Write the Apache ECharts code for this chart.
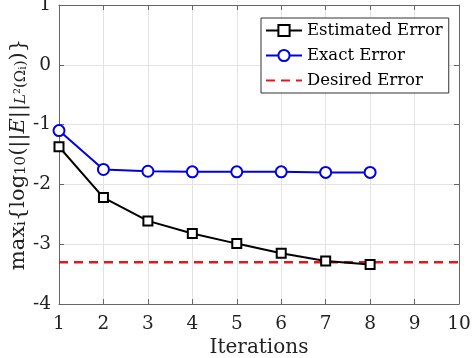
<!DOCTYPE html>
<html><head><meta charset="utf-8">
<script src="https://cdn.jsdelivr.net/npm/echarts@6/dist/echarts.min.js"></script>
<style>html,body{margin:0;padding:0;background:#fff}#c{width:474px;height:358px}</style>
</head><body><div id="c"></div>
<script>
const iterations = [1, 2, 3, 4, 5, 6, 7, 8];
const estimatedError = [-1.37, -2.22, -2.61, -2.82, -2.99, -3.15, -3.28, -3.34];
const exactError = [-1.10, -1.75, -1.78, -1.79, -1.79, -1.79, -1.80, -1.80];
const desiredX = [1, 10];
const desiredLevel = -3.30;
const xTicks = [1, 2, 3, 4, 5, 6, 7, 8, 9, 10];
const yTicks = [-4, -3, -2, -1, 0, 1];

const FONT = 'DejaVu Serif';
const chart = echarts.init(document.getElementById('c'), null, {renderer: 'canvas'});
const axisCol = '#666';
const gridCol = '#e3e3e3';
chart.setOption({
  animation: false,
  backgroundColor: '#fff',
  grid: {left: 59, right: 15, top: 5, bottom: 54, containLabel: false, outerBoundsMode: 'none'},
  legend: {
    orient: 'vertical', left: 261, top: 18,
    padding: [4, 6, 4, 4], itemGap: 8, itemWidth: 36, itemHeight: 14,
    backgroundColor: '#fff', borderColor: '#333', borderWidth: 1, borderRadius: 0,
    textStyle: {fontFamily: FONT, fontSize: 16.5, color: '#000', lineHeight: 17, padding: [0,0,0,0]},
    data: ['Estimated Error', 'Exact Error', {name: 'Desired Error', itemStyle: {opacity: 0}}]
  },
  xAxis: [{
    type: 'value', min: xTicks[0], max: xTicks[xTicks.length - 1], interval: 1,
    name: 'Iterations', nameLocation: 'middle', nameGap: 34, nameMoveOverlap: false,
    nameTextStyle: {fontFamily: FONT, fontSize: 20, color: '#222'},
    axisLine: {show: true, onZero: false, lineStyle: {color: axisCol, width: 1}},
    axisTick: {show: true, inside: true, length: 5, lineStyle: {color: axisCol}},
    axisLabel: {fontFamily: FONT, fontSize: 18.5, color: '#222', margin: 11},
    splitLine: {show: true, lineStyle: {color: gridCol, width: 1}}
  }, {
    type: 'value', position: 'top', min: xTicks[0], max: xTicks[xTicks.length - 1], interval: 1,
    axisLine: {show: true, onZero: false, lineStyle: {color: axisCol, width: 1}},
    axisTick: {show: true, inside: true, length: 5, lineStyle: {color: axisCol}},
    axisLabel: {show: false}, splitLine: {show: false}
  }],
  yAxis: [{
    type: 'value', min: yTicks[0], max: yTicks[yTicks.length - 1], interval: 1,
    name: 'max{s|i}{log{s|10}(||{it|E}||{si|L}{s|²(Ω}{ss|i}{s|)})}',
    nameLocation: 'middle', nameGap: 30, nameRotate: 90, nameMoveOverlap: false,
    nameTextStyle: {
      fontFamily: FONT, fontSize: 21, color: '#222',
      rich: {
        s: {fontFamily: FONT, fontSize: 15, color: '#222', verticalAlign: 'bottom', lineHeight: 15},
        si: {fontFamily: FONT, fontSize: 15, fontStyle: 'italic', color: '#222', verticalAlign: 'bottom', lineHeight: 15},
        ss: {fontFamily: FONT, fontSize: 11, color: '#222', verticalAlign: 'bottom', lineHeight: 12},
        it: {fontFamily: FONT, fontSize: 21, fontStyle: 'italic', color: '#222'}
      }
    },
    axisLine: {show: true, onZero: false, lineStyle: {color: axisCol, width: 1}},
    axisTick: {show: true, inside: true, length: 5, lineStyle: {color: axisCol}},
    axisLabel: {fontFamily: FONT, fontSize: 18.5, color: '#222', margin: 8},
    splitLine: {show: true, lineStyle: {color: gridCol, width: 1}}
  }, {
    type: 'value', position: 'right', min: yTicks[0], max: yTicks[yTicks.length - 1], interval: 1,
    axisLine: {show: true, onZero: false, lineStyle: {color: axisCol, width: 1}},
    axisTick: {show: true, inside: true, length: 5, lineStyle: {color: axisCol}},
    axisLabel: {show: false}, splitLine: {show: false}
  }],
  series: [{
    name: 'Estimated Error', type: 'line',
    data: iterations.map((x, i) => [x, estimatedError[i]]),
    symbol: 'rect', symbolSize: 9, showAllSymbol: true,
    lineStyle: {color: '#000', width: 2},
    itemStyle: {color: '#fff', borderColor: '#000', borderWidth: 2},
    z: 3
  }, {
    name: 'Exact Error', type: 'line',
    data: iterations.map((x, i) => [x, exactError[i]]),
    symbol: 'circle', symbolSize: 11, showAllSymbol: true,
    lineStyle: {color: '#0000e6', width: 2},
    itemStyle: {color: '#fff', borderColor: '#0000e6', borderWidth: 2},
    z: 3
  }, {
    name: 'Desired Error', type: 'line',
    data: desiredX.map(x => [x, desiredLevel]),
    symbol: 'none', showSymbol: false,
    lineStyle: {color: '#e8151b', width: 2.5, type: [9, 6]},
    itemStyle: {color: '#e8151b'},
    z: 2
  }]
});
</script></body></html>
